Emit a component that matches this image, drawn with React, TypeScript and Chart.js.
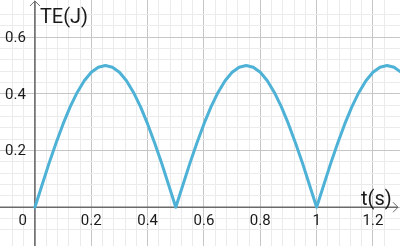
import React, { useEffect, useRef } from "react";
import { Chart, registerables } from "chart.js";

Chart.register(...registerables);

// time (s)
const tValues = [
  0, 0.025, 0.05, 0.075, 0.1, 0.125, 0.15, 0.175, 0.2, 0.225, 0.25,
  0.275, 0.3, 0.325, 0.35, 0.375, 0.4, 0.425, 0.45, 0.475, 0.5,
  0.525, 0.55, 0.575, 0.6, 0.625, 0.65, 0.675, 0.7, 0.725, 0.75,
  0.775, 0.8, 0.825, 0.85, 0.875, 0.9, 0.925, 0.95, 0.975, 1.0,
  1.025, 1.05, 1.075, 1.1, 1.125, 1.15, 1.175, 1.2, 1.225, 1.25,
  1.275, 1.3,
];
// total energy (J)
const teValues = [
  0, 0.078, 0.155, 0.227, 0.294, 0.354, 0.405, 0.446, 0.476, 0.494, 0.5,
  0.494, 0.476, 0.446, 0.405, 0.354, 0.294, 0.227, 0.155, 0.078, 0,
  0.078, 0.155, 0.227, 0.294, 0.354, 0.405, 0.446, 0.476, 0.494, 0.5,
  0.494, 0.476, 0.446, 0.405, 0.354, 0.294, 0.227, 0.155, 0.078, 0,
  0.078, 0.155, 0.227, 0.294, 0.354, 0.405, 0.446, 0.476, 0.494, 0.5,
  0.494, 0.476,
];
const xTickLabels = ["0.2", "0.4", "0.6", "0.8", "1", "1.2"];
const xTickValues = [0.2, 0.4, 0.6, 0.8, 1, 1.2];
const yTickLabels = ["0.2", "0.4", "0.6"];
const yTickValues = [0.2, 0.4, 0.6];
const xTitle = "t(s)";
const yTitle = "TE(J)";

const X_MIN = -0.124;
const X_MAX = 1.296;
const Y_MIN = -0.1365;
const Y_MAX = 0.731;

const MAJOR = "#c6c6c6";
const MINOR = "#ebebeb";
const AXIS = "#6a6a6a";
const TEXT = "#1a1a1a";
const CURVE = "rgb(77,178,214)";
const FONT = "Roboto, 'Open Sans', sans-serif";

function gridColor(v: number) {
  if (Math.abs(v * 5 - Math.round(v * 5)) < 1e-6) return MAJOR;
  if (Math.abs(v * 25 - Math.round(v * 25)) < 1e-6) return MINOR;
  return "rgba(0,0,0,0)";
}

const axesPlugin = {
  id: "geoAxes",
  beforeDatasetsDraw(chart: any) {
    const ctx = chart.ctx;
    const xs = chart.scales.x;
    const ys = chart.scales.y;
    const { left, right, top, bottom } = chart.chartArea;
    const x0 = xs.getPixelForValue(0);
    const y0 = ys.getPixelForValue(0);
    ctx.save();
    ctx.strokeStyle = AXIS;
    ctx.lineWidth = 1.6;
    ctx.beginPath();
    ctx.moveTo(left, y0);
    ctx.lineTo(right - 2, y0);
    ctx.moveTo(x0, bottom);
    ctx.lineTo(x0, top + 1);
    ctx.stroke();
    // arrowheads
    ctx.lineWidth = 1;
    ctx.beginPath();
    ctx.moveTo(x0 - 5, top + 6);
    ctx.lineTo(x0, top + 1);
    ctx.lineTo(x0 + 5, top + 6);
    ctx.moveTo(right - 7, y0 - 5);
    ctx.lineTo(right - 2, y0);
    ctx.lineTo(right - 7, y0 + 5);
    ctx.stroke();

    ctx.fillStyle = TEXT;
    ctx.font = `15px ${FONT}`;
    ctx.textAlign = "center";
    ctx.textBaseline = "middle";
    xTickValues.forEach((v, i) => {
      ctx.fillText(xTickLabels[i], xs.getPixelForValue(v), y0 + 14);
    });
    ctx.textAlign = "right";
    ctx.fillText("0", x0 - 8, y0 + 14);
    yTickValues.forEach((v, i) => {
      ctx.fillText(yTickLabels[i], x0 - 9, ys.getPixelForValue(v) + 1);
    });

    ctx.font = `20px ${FONT}`;
    ctx.textAlign = "left";
    ctx.textBaseline = "alphabetic";
    ctx.fillText(yTitle, x0 + 5, 23);
    ctx.fillText(xTitle, right - 39, y0 - 2);
    ctx.restore();
  },
};

export default function App() {
  const ref = useRef<HTMLCanvasElement | null>(null);
  useEffect(() => {
    if (!ref.current) return;
    const chart = new Chart(ref.current, {
      type: "line",
      data: {
        datasets: [
          {
            data: tValues.map((t, i) => ({ x: t, y: teValues[i] })),
            borderColor: CURVE,
            borderWidth: 3,
            borderJoinStyle: "round",
            borderCapStyle: "round",
            pointRadius: 0,
            tension: 0,
            fill: false,
          },
        ],
      },
      options: {
        responsive: false,
        animation: false,
        layout: { padding: 0 },
        plugins: { legend: { display: false }, tooltip: { enabled: false } },
        scales: {
          x: {
            type: "linear",
            min: X_MIN,
            max: X_MAX,
            ticks: { display: false, stepSize: 0.04 },
            border: { display: false },
            grid: {
              drawTicks: false,
              lineWidth: 1,
              color: (c: any) => gridColor(c.tick ? c.tick.value : 0.01),
            },
          },
          y: {
            type: "linear",
            min: Y_MIN,
            max: Y_MAX,
            ticks: { display: false, stepSize: 0.04 },
            border: { display: false },
            grid: {
              drawTicks: false,
              lineWidth: 1,
              color: (c: any) => gridColor(c.tick ? c.tick.value : 0.01),
            },
          },
        },
      },
      plugins: [axesPlugin],
    });
    return () => chart.destroy();
  }, []);
  return (
    <div style={{ position: "fixed", left: 0, top: 0, width: 400, height: 246, background: "#fff" }}>
      <canvas ref={ref} width={400} height={246} style={{ display: "block" }} />
    </div>
  );
}
